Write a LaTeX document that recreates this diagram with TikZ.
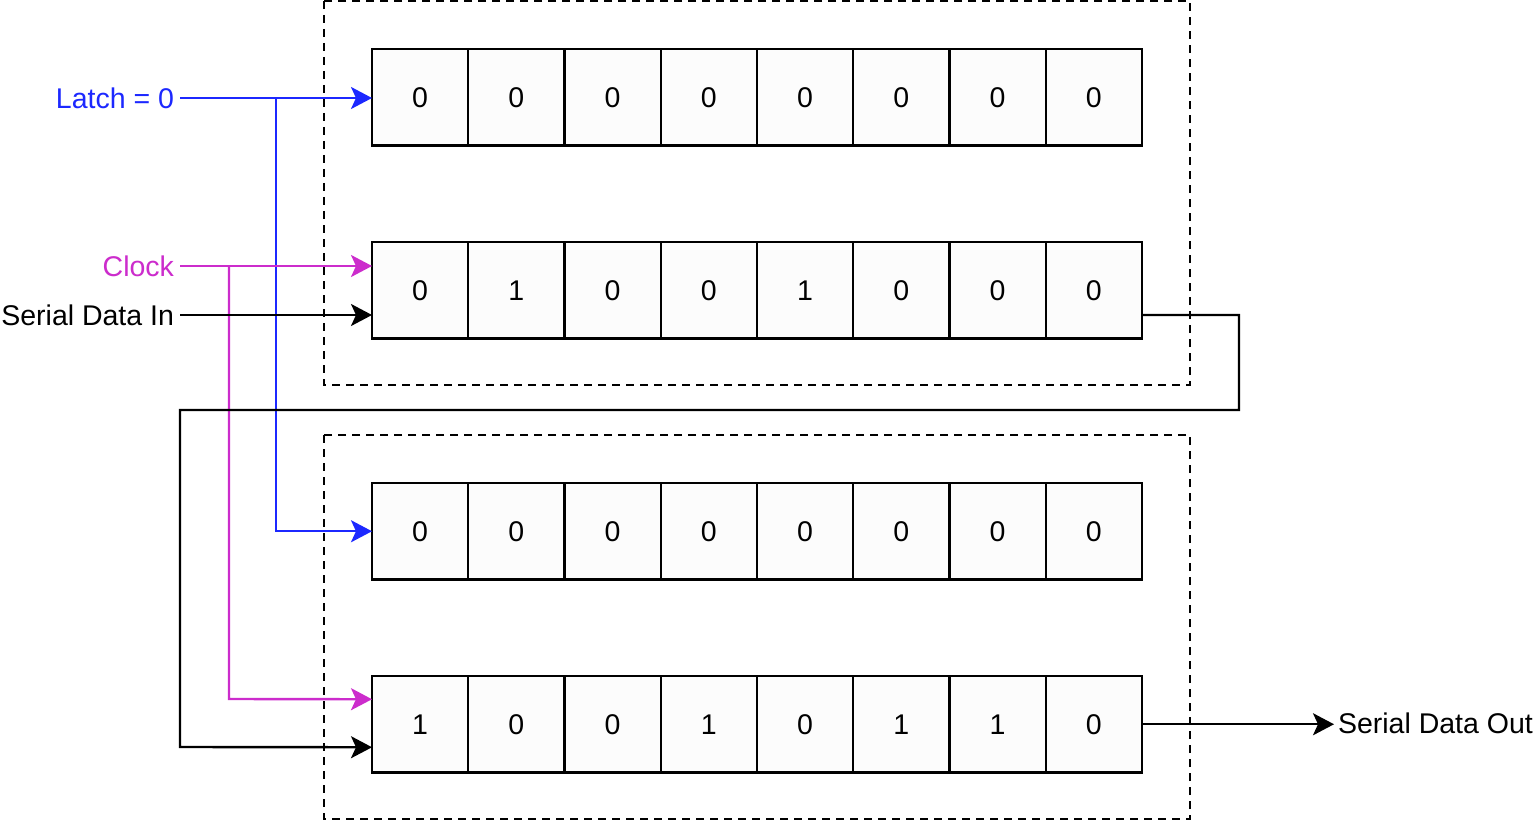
\documentclass[tikz,border=0pt]{standalone}
\usepackage{fontspec}
\setmainfont{Liberation Sans}
\usetikzlibrary{arrows.meta,calc}
\definecolor{latchblue}{RGB}{28,40,255}
\definecolor{clockmag}{RGB}{204,44,204}
\definecolor{cellfill}{RGB}{252,252,252}
\begin{document}
\begin{tikzpicture}[x=1pt,y=-1pt,
  font=\fontsize{28.5}{30}\selectfont,
  cellbox/.style={draw=black,line width=2.4pt,fill=cellfill,minimum width=96.25pt,minimum height=96.5pt,inner sep=0pt,outer sep=0pt},
  groupbox/.style={draw=black,line width=2.2pt,dash pattern=on 8pt off 6pt},
  wire/.style={line width=2.4pt},
  tip/.style={-{Stealth[length=21pt,width=22pt,inset=5pt]}},
  lbl/.style={inner sep=0pt,outer sep=0pt}
]
\useasboundingbox (0,0) rectangle (1536,821);
\fill[white] (0,0) rectangle (1536,821);
% dashed group boxes
\draw[groupbox] (324,1) rectangle (1190,385);
\draw[groupbox] (324,435) rectangle (1190,819);
% registers
\foreach \r/\top/\bits in {1/49/{0,0,0,0,0,0,0,0},2/242/{0,1,0,0,1,0,0,0},3/483/{0,0,0,0,0,0,0,0},4/676/{1,0,0,1,0,1,1,0}}{
  \foreach \b [count=\i] in \bits {
    \node[cellbox] (r\r c\i) at ({372+96.25*(\i-0.5)},{\top+48.25}) {\b};
  }
}
% labels
\node[lbl,anchor=base east,text=latchblue] (latch) at (174,108.2) {Latch = 0};
\node[lbl,anchor=base east,text=clockmag] (clock) at (174,276.2) {Clock};
\node[lbl,anchor=base east] (sdin) at (174,325.2) {Serial Data In};
\node[lbl,anchor=base west] (sdout) at (1338,733.2) {Serial Data Out};
% helper coordinates
\coordinate (lsrc) at (180,98);
\coordinate (lbr) at (276,98);
\coordinate (csrc) at (180,266);
\coordinate (cbr) at (229,266);
\coordinate (dsrc) at (180,315);
\coordinate (outtip) at ($(sdout.west |- r4c8.east)+(-4,0)$);
% latch
\draw[wire,latchblue,tip] (lsrc) -- (lsrc -| r1c1.west);
\draw[wire,latchblue,tip] (lbr) -- (lbr |- r3c1.west) -- (r3c1.west);
% clock
\draw[wire,clockmag,tip] (csrc) -- (csrc -| r2c1.west);
\draw[wire,clockmag,tip] (cbr) -- (cbr |- 0,699) -- ($(r4c1.west)+(0,-25)$);
% serial data in
\draw[wire,tip] (dsrc) -- (dsrc -| r2c1.west);
% feedback from register 2 to register 4
\draw[wire,tip] (r2c8.east |- dsrc) -- (1239,315) -- (1239,410) -- (180,410) -- (180,747) -- ($(r4c1.west)+(0,23)$);
% serial data out
\draw[wire,tip] (r4c8.east) -- (outtip);
\end{tikzpicture}
\end{document}
